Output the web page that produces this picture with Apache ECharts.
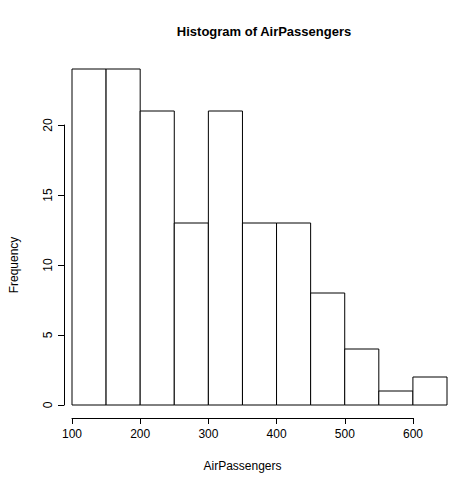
<!DOCTYPE html>
<html><head><meta charset="utf-8">
<script src="https://cdn.jsdelivr.net/npm/echarts@6/dist/echarts.min.js"></script>
<style>html,body{margin:0;background:#fff}#c{width:474px;height:482px}</style>
</head><body><div id="c"></div>
<script>
const binStarts = [100, 150, 200, 250, 300, 350, 400, 450, 500, 550, 600]
const binWidth = 50
const counts = [24, 24, 21, 13, 21, 13, 13, 8, 4, 1, 2]
const xTicks = [100, 600, 100]
const yTicks = [0, 20, 5]

const chart = echarts.init(document.getElementById('c'), null, {renderer: 'svg'})
const font = 'Arial, Liberation Sans, sans-serif'
const data = binStarts.map((s, i) => [s, s + binWidth, counts[i]])
const axisCommon = {
    splitLine: {show: false},
    axisLine: {show: true, lineStyle: {color: '#000'}},
    axisTick: {show: true, length: 6, lineStyle: {color: '#000'}}
}

chart.setOption({
    animation: false,
    title: {
        text: 'Histogram of AirPassengers', left: 259, top: 20, textAlign: 'center',
        textStyle: {fontFamily: font, fontSize: 13, fontWeight: 'bold', color: '#000'}
    },
    grid: [
        {left: 72, width: 375, top: 69, height: 336},
        {left: 72, width: 341, top: 125, height: 293},
        {left: 58, width: 341, top: 125, height: 280}
    ],
    xAxis: [
        {gridIndex: 0, type: 'value', min: 100, max: 650, show: false},
        {gridIndex: 1, type: 'value', min: xTicks[0], max: xTicks[1], interval: xTicks[2], ...axisCommon,
         axisLabel: {color: '#000', fontFamily: font, fontSize: 12, margin: 10},
         name: 'AirPassengers', nameLocation: 'middle', nameGap: 42,
         nameTextStyle: {color: '#000', fontFamily: font, fontSize: 12}},
        {gridIndex: 2, type: 'value', show: false}
    ],
    yAxis: [
        {gridIndex: 0, type: 'value', min: 0, max: 24, show: false},
        {gridIndex: 1, type: 'value', show: false},
        {gridIndex: 2, type: 'value', min: yTicks[0], max: yTicks[1], interval: yTicks[2], ...axisCommon,
         axisLabel: {color: '#000', fontFamily: font, fontSize: 12, rotate: 90, margin: 10},
         name: 'Frequency', nameLocation: 'middle', nameGap: 44, nameRotate: 90,
         nameTextStyle: {color: '#000', fontFamily: font, fontSize: 12}}
    ],
    series: [{
        type: 'custom', xAxisIndex: 0, yAxisIndex: 0, data: data,
        renderItem: (params, api) => {
            const p0 = api.coord([api.value(0), 0])
            const p1 = api.coord([api.value(1), api.value(2)])
            return {type: 'rect', shape: {x: p0[0], y: p1[1], width: p1[0] - p0[0], height: p0[1] - p1[1]},
                    style: {fill: '#fff', stroke: '#000', lineWidth: 1}}
        }
    }]
})
</script></body></html>
